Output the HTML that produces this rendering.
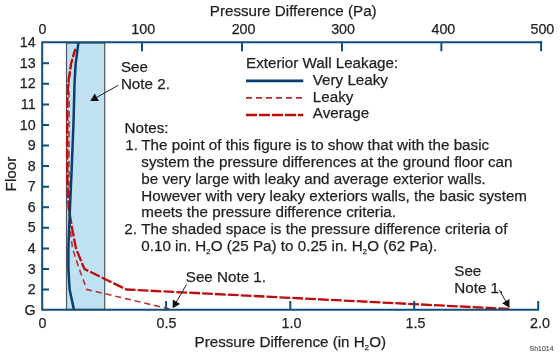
<!DOCTYPE html>
<html><head><meta charset="utf-8"><title>Pressure Difference</title>
<style>
html,body{margin:0;padding:0;background:#fff;width:560px;height:357px;overflow:hidden}
svg{display:block}
text{font-family:"Liberation Sans",Arial,sans-serif;fill:#231f20;stroke:#231f20;stroke-width:0.25px}
.t{font-size:15.2px}
.k{font-size:14.3px}
</style></head>
<body>
<svg width="560" height="357" viewBox="0 0 560 357">
<!-- shaded criteria band -->
<rect x="66.5" y="43" width="38.2" height="266.5" fill="#c0e1f2" stroke="#4d585f" stroke-width="1.2"/>

<!-- data lines -->
<polyline fill="none" stroke="#b82a2c" stroke-width="1.5" stroke-dasharray="6.2 3.8" stroke-dashoffset="7.01"
 points="75.3,48.8 71.2,63.3 68.8,83.8 69.2,104.4 69.0,125.0 69.0,145.6 69.0,166.1 69.0,186.7 69.2,207.3 70.2,227.8 72.5,248.4 79.2,269.0 86.9,289.5 169.5,308.9"/>
<polyline fill="none" stroke="#c00c0c" stroke-width="2.3" stroke-dasharray="10.8 2.1" stroke-dashoffset="2.40"
 points="75.3,48.8 71.2,63.3 68.0,83.8 67.3,104.4 67.2,125.0 67.2,145.6 67.3,166.1 67.6,186.7 68.6,207.3 72.0,227.8 76.0,248.4 84.4,269.0 126.4,289.5 509.7,309.0"/>
<polyline fill="none" stroke="#07406d" stroke-width="2.5" stroke-linejoin="round"
 points="78.4,42.7 75.7,63.3 74.5,83.8 74.0,104.4 73.4,125.0 72.6,145.6 71.8,166.1 70.9,186.7 70.0,207.3 69.1,227.8 68.4,248.4 68.4,269.0 69.6,289.5 73.9,309.5"/>

<!-- axes -->
<g stroke="#0f4d7b" stroke-width="2" fill="none">
<path d="M42.2,309.7 V42.3 H542.1"/>
<path d="M41.2,309.7 H539"/>
<!-- top ticks -->
<path d="M142,42.3 v9 M242,42.3 v9 M342,42.3 v9 M441.4,42.3 v9 M541.1,41.3 v10"/>
<!-- bottom ticks -->
<path d="M166.1,309.7 v-8.7 M290.3,309.7 v-8.7 M414.2,309.7 v-8.7 M538.2,309.7 v-8.7"/>
<!-- left ticks -->
<path d="M42.5,63.27 h6.5 M42.5,83.84 h6.5 M42.5,104.41 h6.5 M42.5,124.98 h6.5 M42.5,145.55 h6.5 M42.5,166.12 h6.5 M42.5,186.69 h6.5 M42.5,207.26 h6.5 M42.5,227.83 h6.5 M42.5,248.40 h6.5 M42.5,268.97 h6.5 M42.5,289.54 h6.5"/>
</g>

<!-- titles -->
<text class="t" x="209.8" y="16">Pressure Difference (Pa)</text>
<text class="t" x="194.5" y="346.9">Pressure Difference (in H<tspan font-size="7.5px" dy="2.6">2</tspan><tspan dy="-2.6" dx="0.3">O)</tspan></text>
<text class="t" transform="translate(15.7,174.1) rotate(-90)" text-anchor="middle">Floor</text>

<!-- top tick labels -->
<g class="k" text-anchor="middle">
<text class="k" x="42.5" y="34.2">0</text>
<text class="k" x="143.3" y="34.2">100</text>
<text class="k" x="243.6" y="34.2">200</text>
<text class="k" x="343.1" y="34.2">300</text>
<text class="k" x="443.4" y="34.2">400</text>
<text class="k" x="542.4" y="34.2">500</text>
</g>
<!-- bottom tick labels -->
<g text-anchor="middle">
<text class="k" x="42.5" y="327.7">0</text>
<text class="k" x="166.5" y="327.7">0.5</text>
<text class="k" x="291.4" y="327.7">1.0</text>
<text class="k" x="415.5" y="327.7">1.5</text>
<text class="k" x="540" y="327.7">2.0</text>
</g>
<!-- left tick labels -->
<g text-anchor="end">
<text class="k" x="35.7" y="47.3">14</text>
<text class="k" x="35.7" y="67.9">13</text>
<text class="k" x="35.7" y="88.4">12</text>
<text class="k" x="35.7" y="109.0">11</text>
<text class="k" x="35.7" y="129.6">10</text>
<text class="k" x="35.7" y="150.2">9</text>
<text class="k" x="35.7" y="170.7">8</text>
<text class="k" x="35.7" y="191.3">7</text>
<text class="k" x="35.7" y="211.9">6</text>
<text class="k" x="35.7" y="232.4">5</text>
<text class="k" x="35.7" y="253.0">4</text>
<text class="k" x="35.7" y="273.6">3</text>
<text class="k" x="35.7" y="294.1">2</text>
<text class="k" x="35.7" y="314.7">G</text>
</g>

<!-- legend -->
<text class="t" x="246" y="67.7">Exterior Wall Leakage:</text>
<line x1="246" y1="80.8" x2="303.3" y2="80.8" stroke="#07406d" stroke-width="2.8"/>
<line x1="246" y1="97.8" x2="303.3" y2="97.8" stroke="#b82a2c" stroke-width="1.8" stroke-dasharray="6 4"/>
<line x1="246" y1="115" x2="303.3" y2="115" stroke="#c00c0c" stroke-width="2.4" stroke-dasharray="11 2"/>
<text class="t" x="312.8" y="85.3">Very Leaky</text>
<text class="t" x="312.8" y="101.9">Leaky</text>
<text class="t" x="312.8" y="118.4">Average</text>

<!-- notes -->
<text class="t" x="124.6" y="132.7">Notes:</text>
<text class="t" x="125.2" y="149.8">1.</text>
<text class="t" x="141.3" y="149.8">The point of this figure is to show that with the basic</text>
<text class="t" x="141.3" y="166.6">system the pressure differences at the ground floor can</text>
<text class="t" x="141.3" y="183.6">be very large with leaky and average exterior walls.</text>
<text class="t" x="141.3" y="200.6">However with very leaky exteriors walls, the basic system</text>
<text class="t" x="141.3" y="217.4">meets the pressure difference criteria.</text>
<text class="t" x="124.2" y="234.3">2.</text>
<text class="t" x="141.3" y="234.3">The shaded space is the pressure difference criteria of</text>
<text class="t" x="141.3" y="251.2">0.10 in. H<tspan font-size="7.5px" dy="2.6">2</tspan><tspan dy="-2.6" dx="0.3">O (25 Pa) to 0.25 in. H</tspan><tspan font-size="7.5px" dy="2.6">2</tspan><tspan dy="-2.6" dx="0.3">O (62 Pa).</tspan></text>

<!-- annotations -->
<text class="t" x="120.9" y="71.9">See</text>
<text class="t" x="120.9" y="88.7">Note 2.</text>
<line x1="118.3" y1="85.3" x2="95.5" y2="98" stroke="#222" stroke-width="1"/>
<polygon points="90.2,101.0 94.8,93.6 98.9,101.0" fill="#111"/>

<text class="t" x="185.8" y="281.9">See Note 1.</text>
<line x1="186.5" y1="284.5" x2="175.7" y2="303" stroke="#222" stroke-width="1"/>
<polygon points="172.6,308.3 172.8,299.6 180.1,303.9" fill="#111"/>

<text class="t" x="454.3" y="276.2">See</text>
<text class="t" x="454.3" y="292.7">Note 1.</text>
<line x1="499.3" y1="290" x2="506.5" y2="302.5" stroke="#222" stroke-width="1"/>
<polygon points="509.5,307.8 502.1,303.3 509.4,299.1" fill="#111"/>

<text x="529.5" y="350.8" textLength="24" lengthAdjust="spacingAndGlyphs" style="font-size:8.1px;fill:#444;stroke:#444;stroke-width:0.1px">Sh1014</text>
</svg>
</body></html>
